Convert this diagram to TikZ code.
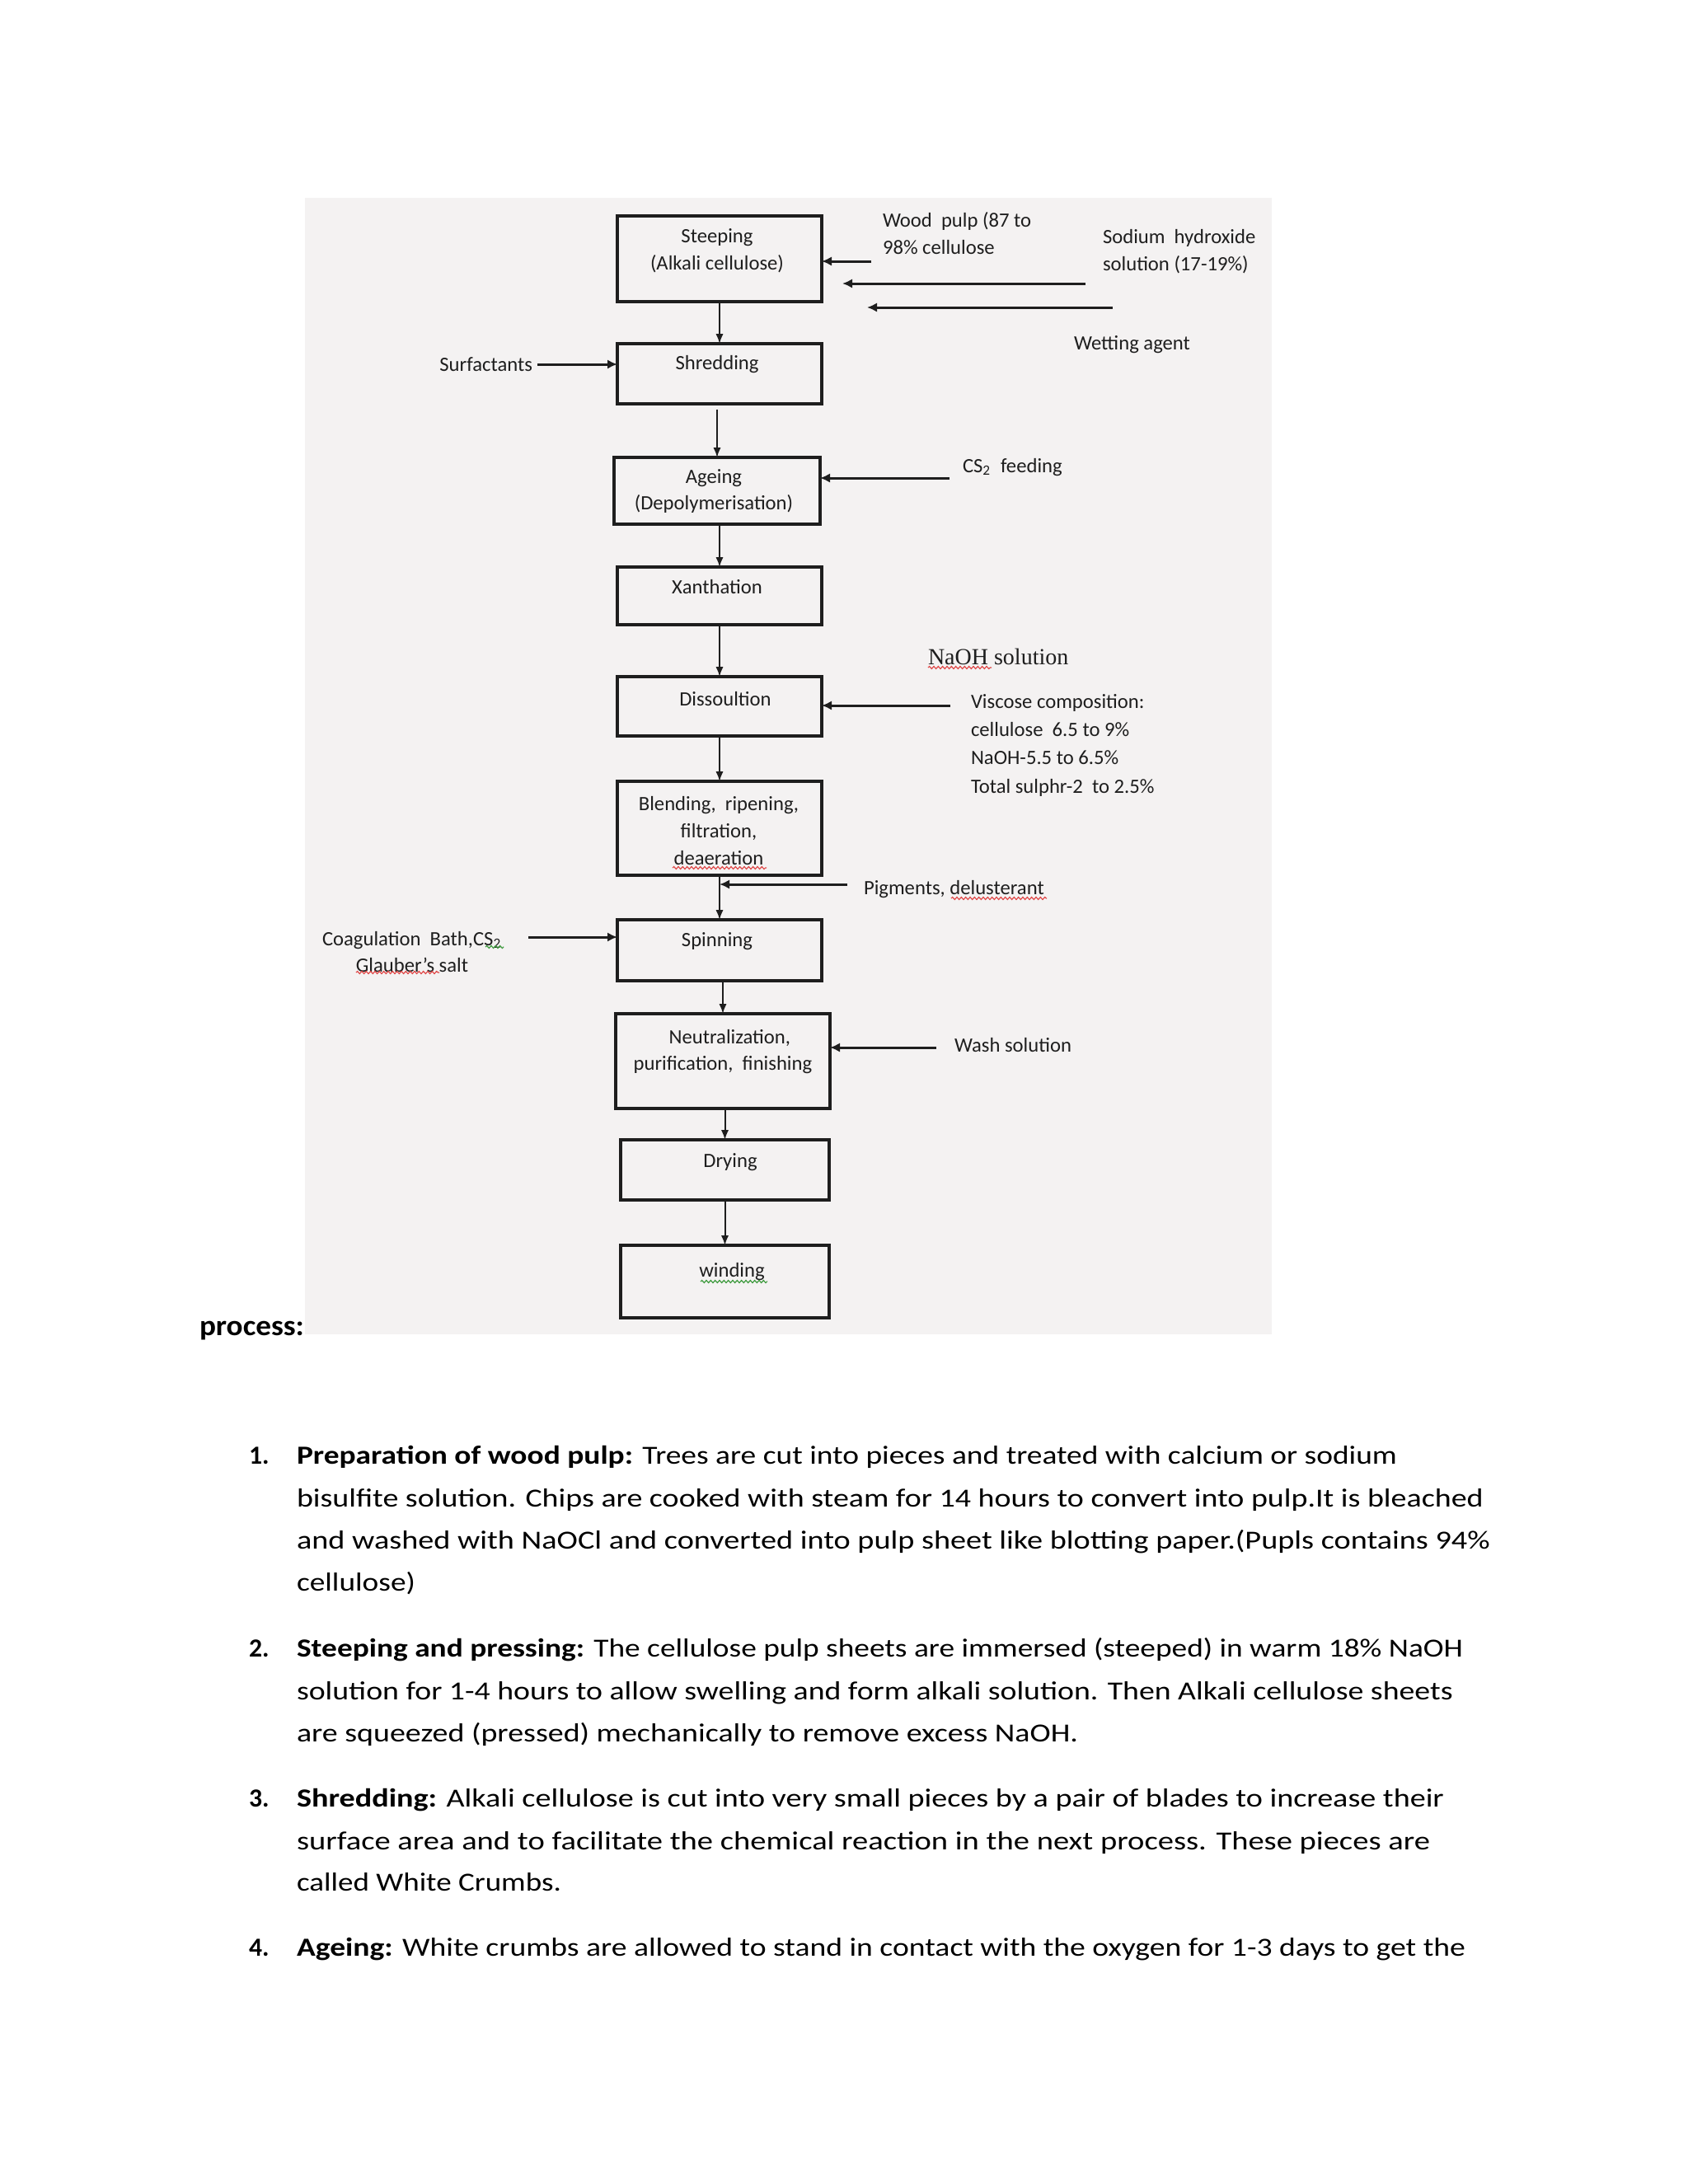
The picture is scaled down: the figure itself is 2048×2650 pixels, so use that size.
\documentclass[tikz,border=0pt]{standalone}
\usepackage{fontspec}
\setmainfont{Carlito}
\newfontfamily\naohfont{Liberation Serif}
\usepackage{graphicx}
\usetikzlibrary{arrows.meta,decorations.pathmorphing,calc}
\newsavebox\fitbox
\newcommand\fitto[2]{\sbox\fitbox{#2}\pgfmathsetmacro\fitr{(#1)/(\the\wd\fitbox)}\scalebox{\fitr}[1]{\usebox\fitbox}}
\definecolor{panel}{HTML}{F4F2F2}
\definecolor{ink}{HTML}{1E1E1E}
\definecolor{squig}{HTML}{E04848}
\definecolor{squigg}{HTML}{3C9A3C}
\begin{document}
\begin{tikzpicture}[x=0.3pt,y=-0.3pt,
  box/.style={draw=ink,line width=1pt,inner sep=0,outer sep=0},
  lab/.style={inner sep=0,outer sep=0,text=ink,font=\fontsize{7.4}{9.8}\selectfont,align=center},
  side/.style={inner sep=0,outer sep=0,text=ink,font=\fontsize{7.4}{9.8}\selectfont,align=left,anchor=west},
  flow/.style={draw=ink,line width=0.6pt,-{Latex[length=3.6pt,width=2.8pt]}},
  feed/.style={draw=ink,line width=0.9pt,-{Latex[length=3.6pt,width=3.4pt]}},
  body/.style={inner sep=0,outer sep=0,anchor=base west,font=\fontsize{9.5}{11}\selectfont,text=black},
  squiggle/.style={draw=squig,line width=0.35pt,decorate,decoration={snake,amplitude=0.45pt,segment length=1.6pt}}
]
\path[use as bounding box,fill=white] (0,0) rectangle (2048,2650);
\fill[panel] (370,240) rectangle (1543,1619);

% process boxes
\node[box,minimum width=74.4pt,minimum height=31.2pt] (steep) at (873,314) {};
\node[box,minimum width=74.4pt,minimum height=21.9pt] (shred) at (873,453.5) {};
\node[box,minimum width=75pt,minimum height=24.3pt] (age) at (870,595.5) {};
\node[box,minimum width=74.4pt,minimum height=21pt] (xan) at (873,723) {};
\node[box,minimum width=74.4pt,minimum height=21.6pt] (dis) at (873,857) {};
\node[box,minimum width=74.4pt,minimum height=34.2pt] (blend) at (873,1005) {};
\node[box,minimum width=74.4pt,minimum height=22.2pt] (spin) at (873,1153) {};
\node[box,minimum width=78pt,minimum height=34.5pt] (neut) at (877,1287.5) {};
\node[box,minimum width=75.9pt,minimum height=21.9pt] (dry) at (879.5,1419.5) {};
\node[box,minimum width=75.9pt,minimum height=26.4pt] (wind) at (879.5,1555) {};

% box labels
\node[lab] (steepL) at (870,304) {Steeping\\(Alkali cellulose)};
\node[lab] (shredL) at (870,442) {Shredding};
\node[lab] (ageL) at (866,596) {Ageing\\(Depolymerisation)};
\node[lab] (xanL) at (870,712) {Xanthation};
\node[lab] (disL) at (880,848) {Dissoultion};
\node[lab] (blendL) at (872,1008) {Blending,\ \ ripening,\\filtration,\\deaeration};
\node[lab] (spinL) at (870,1142) {Spinning};
\node[lab] (neutL) at (877,1276) {\ \ \ Neutralization,\\purification,\ \ finishing};
\node[lab] (dryL) at (886,1410) {Drying};
\node[lab] (windL) at (888,1543) {winding};

% side labels
\node[side] (woodL) at (1071,283) {Wood\ \ pulp (87 to\\98\% cellulose};
\node[side] (sodaL) at (1338,305) {Sodium\ \ hydroxide\\solution (17-19\%)};
\node[side] (wetL) at (1303,418) {Wetting agent};
\node[side,anchor=east] (surfL) at (646,442) {Surfactants};
\node[side] (cs2L) at (1168,567) {CS\textsubscript{2}\ \ feeding};
\node[side,font=\naohfont\fontsize{8.4}{10}\selectfont] (naohL) at (1126,797) {NaOH solution};
\node[side,font=\fontsize{7.4}{10.3}\selectfont] (viscL) at (1178,904) {Viscose composition:\\cellulose\ \ 6.5 to 9\%\\NaOH-5.5 to 6.5\%\\Total sulphr-2\ \ to 2.5\%};
\node[side] (pigL) at (1048,1079) {Pigments, delusterant};
\node[lab] (coagL) at (500,1155) {Coagulation\ \ Bath,CS\textsubscript{2}\\Glauber's salt};
\node[side] (washL) at (1158,1268) {Wash solution};

% main flow
\draw[flow] (steep.south) -- (steep.south |- shred.north);
\draw[flow,shorten <=2pt] (age.north |- shred.south) -- (age.north);
\draw[flow] (xan.north |- age.south) -- (xan.north);
\draw[flow] (dis.north |- xan.south) -- (dis.north);
\draw[flow] (blend.north |- dis.south) -- (blend.north);
\draw[flow] (spin.north |- blend.south) -- (spin.north);
\draw[flow] (neut.north |- spin.south) -- (neut.north);
\draw[flow] (dry.north |- neut.south) -- (dry.north);
\draw[flow] (wind.north |- dry.south) -- (wind.north);

% feeds
\coordinate (woodT) at (1057,317);
\coordinate (sodaT) at (1317,344);
\coordinate (sodaH) at (1022,344);
\coordinate (wetT) at (1350,373);
\coordinate (wetH) at (1052,373);
\coordinate (surfT) at (652,442);
\coordinate (cs2T) at (1152,580);
\coordinate (viscT) at (1153,856);
\coordinate (pigT) at (1028,1073);
\coordinate (pigJ) at (873,1073);
\coordinate (coagT) at (641,1137);
\coordinate (washT) at (1136,1271);
\draw[feed] (woodT) -- (steep.east |- woodT);
\draw[feed] (sodaT) -- (sodaH);
\draw[feed] (wetT) -- (wetH);
\draw[feed] (surfT) -- (shred.west |- surfT);
\draw[feed] (cs2T) -- (age.east |- cs2T);
\draw[feed] (viscT) -- (dis.east |- viscT);
\draw[feed] (pigT) -- (pigJ);
\draw[feed] (coagT) -- (spin.west |- coagT);
\draw[feed] (washT) -- (neut.east |- washT);

% spell-check squiggles
\draw[squiggle] (1126,810) -- (1203,810);
\draw[squiggle] (816,1053) -- (930,1053);
\draw[squiggle] (1154,1090) -- (1270,1090);
\draw[squiggle] (432,1180) -- (533,1180);
\draw[squiggle,draw=squigg] (589,1149) -- (611,1149);
\draw[squiggle,draw=squigg] (850,1555) -- (931,1555);

% caption
\node[body,font=\fontsize{10.5}{12}\selectfont] (proc) at (242,1620) {\fitto{(369-242)*0.3}{\textbf{process:}}};

% body text
\node[body] (n1) at (302,1776) {\textbf{1.}};
\node[body] (p1a) at (360,1776) {\fitto{(1695-360)*0.3}{\textbf{Preparation of wood pulp:} Trees are cut into pieces and treated with calcium or sodium}};
\node[body] (p1b) at (360,1828) {\fitto{(1800-360)*0.3}{bisulfite solution. Chips are cooked with steam for 14 hours to convert into pulp.It is bleached}};
\node[body] (p1c) at (360,1879) {\fitto{(1808-360)*0.3}{and washed with NaOCl and converted into pulp sheet like blotting paper.(Pupls contains 94\%}};
\node[body] (p1d) at (360,1930) {\fitto{(504-360)*0.3}{cellulose)}};

\node[body] (n2) at (302,2010) {\textbf{2.}};
\node[body] (p2a) at (360,2010) {\fitto{(1775-360)*0.3}{\textbf{Steeping and pressing:} The cellulose pulp sheets are immersed (steeped) in warm 18\% NaOH}};
\node[body] (p2b) at (360,2062) {\fitto{(1763-360)*0.3}{solution for 1-4 hours to allow swelling and form alkali solution. Then Alkali cellulose sheets}};
\node[body] (p2c) at (360,2113) {\fitto{(1308-360)*0.3}{are squeezed (pressed) mechanically to remove excess NaOH.}};

\node[body] (n3) at (302,2192) {\textbf{3.}};
\node[body] (p3a) at (360,2192) {\fitto{(1752-360)*0.3}{\textbf{Shredding:} Alkali cellulose is cut into very small pieces by a pair of blades to increase their}};
\node[body] (p3b) at (360,2244) {\fitto{(1735-360)*0.3}{surface area and to facilitate the chemical reaction in the next process. These pieces are}};
\node[body] (p3c) at (360,2294) {\fitto{(681-360)*0.3}{called White Crumbs.}};

\node[body] (n4) at (302,2373) {\textbf{4.}};
\node[body] (p4a) at (360,2373) {\fitto{(1778-360)*0.3}{\textbf{Ageing:} White crumbs are allowed to stand in contact with the oxygen for 1-3 days to get the}};
\end{tikzpicture}
\end{document}
